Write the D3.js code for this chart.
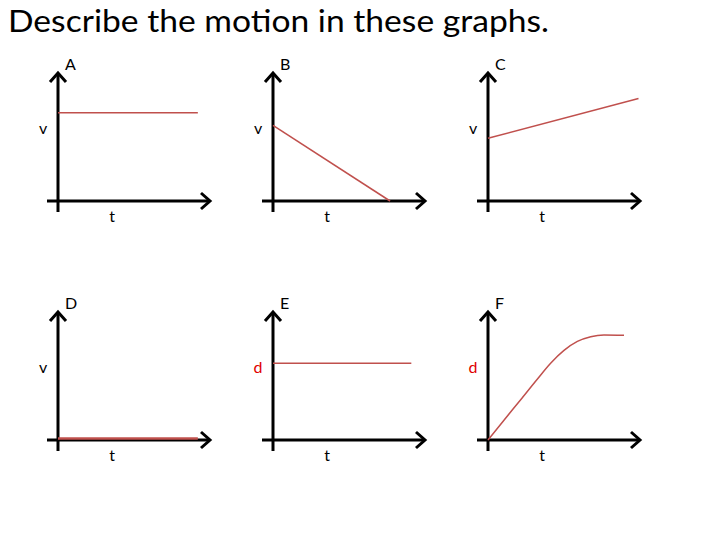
<!DOCTYPE html>
<html>
<head>
<meta charset="utf-8">
<script src="https://cdn.jsdelivr.net/npm/d3@7"></script>
<style>
  body { margin: 0; background: #fff; }
  text { font-family: Lato, "Open Sans", sans-serif; }
</style>
</head>
<body>
<svg id="chart" width="728" height="546"></svg>
<script>
// panel letters, y-axis labels, and the line for each panel (t, value)
const panels   = ["A", "B", "C", "D", "E", "F"];
const yLabels  = ["v", "v", "v", "v", "d", "d"];
const xLabels  = ["t", "t", "t", "t", "t", "t"];
const lineA = [[0, 6.9], [9.2, 6.9]];
const lineB = [[0, 5.9], [7.7, 0]];
const lineC = [[0, 4.9], [9.9, 8.0]];
const lineD = [[0, 0.12], [9.2, 0.12]];
const lineE = [[0, 6.0], [9.1, 6.0]];
const lineF = [[0, 0], [1.05, 1.55], [2.15, 3.15], [3.24, 4.75], [4.12, 6.0], [5.0, 7.0],
               [5.88, 7.7], [6.76, 8.07], [7.63, 8.2], [8.95, 8.18]];
const lines = [lineA, lineB, lineC, lineD, lineE, lineF];

const svg = d3.select("#chart");
const red = "#c0504d";

svg.append("text")
  .attr("x", 8).attr("y", 32)
  .attr("font-size", 31)
  .attr("textLength", 541)
  .attr("lengthAdjust", "spacingAndGlyphs")
  .text("Describe the motion in these graphs.");

// origins of each small graph
const colX = [58, 273, 488], rowY = [201, 440];

panels.forEach((name, i) => {
  const ox = colX[i % 3], oy = rowY[Math.floor(i / 3)];
  const g = svg.append("g").attr("transform", `translate(${ox},${oy})`);
  const x = d3.scaleLinear().domain([0, 10]).range([0, 152]);
  const y = d3.scaleLinear().domain([0, 10]).range([0, -128]);

  // axes with open arrow heads
  const ax = g.append("g").attr("stroke", "#000").attr("stroke-width", 3).attr("fill", "none");
  ax.append("line").attr("x1", -11).attr("x2", x(10) - 1).attr("y1", 0).attr("y2", 0);
  ax.append("line").attr("x1", 0).attr("x2", 0).attr("y1", 11).attr("y2", y(10) + 1);
  ax.append("path").attr("d", `M${x(10) - 9},-8L${x(10)},0L${x(10) - 9},8`);
  ax.append("path").attr("d", `M-8,${y(10) + 9}L0,${y(10)}L8,${y(10) + 9}`);

  g.append("path")
    .datum(lines[i])
    .attr("fill", "none")
    .attr("stroke", red)
    .attr("stroke-width", i === 3 ? 2.5 : 1.5)
    .attr("d", d3.line().x(d => x(d[0])).y(d => y(d[1])).curve(d3.curveMonotoneX));

  g.append("text").attr("x", 7).attr("y", -131).attr("font-size", 16).text(name);
  g.append("text").attr("x", -15).attr("y", -67).attr("font-size", 16)
    .attr("text-anchor", "middle")
    .attr("fill", yLabels[i] === "d" ? "#e00000" : "#000")
    .text(yLabels[i]);
  g.append("text").attr("x", 54).attr("y", 21).attr("font-size", 16)
    .attr("text-anchor", "middle").text(xLabels[i]);
});
</script>
</body>
</html>
